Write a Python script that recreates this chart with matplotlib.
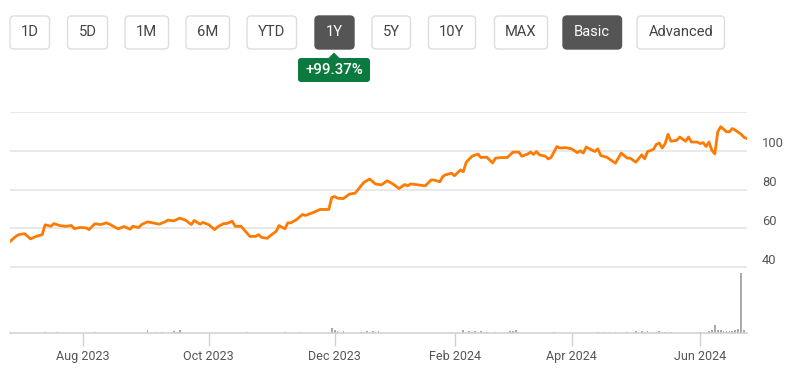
import matplotlib
matplotlib.use("Agg")
import matplotlib.pyplot as plt
from matplotlib.patches import FancyBboxPatch, Polygon
import pandas as pd

plt.rcParams['font.family'] = ['Roboto', 'DejaVu Sans']

# ---------------- data ----------------
start_date = "2023-06-26"
end_date = "2024-06-26"
holidays = ["2023-07-04", "2023-09-04", "2023-11-23", "2023-12-25", "2024-01-01",
            "2024-01-15", "2024-02-19", "2024-03-29", "2024-05-27", "2024-06-19"]

# trading-session number (from start) and closing price
session = [0, 2, 3, 5, 7, 9, 11, 12, 14, 15, 17, 19, 21, 22, 24, 26, 27, 29, 31, 33,
           34, 37, 39, 41, 42, 44, 45, 47, 51, 53, 54, 56, 58, 60, 62, 63, 65, 66, 68, 70,
           71, 73, 74, 76, 77, 79, 80, 82, 84, 85, 86, 88, 89, 91, 92, 94, 95, 96, 98, 100,
           101, 104, 106, 109, 110, 111, 112, 114, 116, 118, 121, 123, 125, 127, 129, 131, 133,
           135, 136, 137, 140, 142, 144, 145, 147, 148, 149, 151, 152, 154, 155, 156, 158, 160,
           161, 163, 165, 166, 168, 170, 172, 174, 175, 177, 178, 179, 180, 181, 183, 184, 185,
           187, 188, 190, 192, 194, 195, 196, 197, 200, 201, 202, 204, 207, 209, 211, 212, 214,
           216, 217, 218, 220, 221, 222, 223, 224, 225, 226, 228, 229, 231, 232, 233, 235, 236,
           237, 238, 239, 240, 241, 242, 243, 245, 246, 247, 248, 250, 251, 252]
price = [53.2, 55.8, 56.7, 57.2, 54.5, 55.8, 56.7, 61.8, 61.0, 62.4, 61.4, 61.0, 61.4, 59.8,
         60.4, 60.2, 59.3, 62.3, 61.9, 62.8, 62.1, 59.7, 60.9, 59.5, 61.0, 60.4, 61.9, 63.3,
         62.1, 63.3, 64.2, 63.8, 65.2, 64.2, 61.9, 64.0, 62.1, 63.0, 61.8, 59.3, 60.7, 62.4,
         62.4, 63.6, 61.0, 61.0, 59.3, 55.8, 55.8, 56.7, 55.3, 54.8, 56.2, 58.4, 61.4, 59.7,
         62.8, 62.8, 64.5, 67.1, 66.6, 68.3, 69.7, 69.7, 75.8, 76.4, 75.5, 75.3, 77.6, 78.1,
         83.7, 85.4, 82.8, 82.4, 84.5, 82.8, 80.5, 82.6, 81.9, 82.9, 82.3, 81.9, 84.9, 84.9,
         84.0, 86.8, 87.6, 88.4, 87.1, 90.1, 89.2, 94.1, 97.2, 98.3, 96.5, 96.7, 93.7, 96.2,
         96.5, 96.5, 99.3, 99.3, 97.2, 98.3, 99.3, 98.1, 99.6, 97.9, 97.2, 95.8, 96.5, 102.2,
         101.4, 101.6, 101.0, 99.0, 100.0, 98.8, 101.9, 99.6, 101.0, 97.5, 96.7, 93.6, 98.8,
         96.2, 96.2, 94.1, 97.9, 95.8, 99.6, 100.7, 103.3, 104.0, 101.4, 103.7, 108.5, 104.9,
         105.4, 107.1, 104.9, 107.1, 104.5, 104.5, 103.7, 104.2, 102.2, 104.5, 100.2, 98.4,
         109.8, 112.4, 109.8, 109.8, 111.5, 110.6, 108.5, 106.9, 106.3]

# volume (millions of shares) on sessions with visible bars
vol_session = [0, 12, 16, 29, 47, 50, 52, 56, 57, 58, 81, 94, 99, 110, 111, 112, 114, 120,
               122, 124, 126, 155, 157, 159, 161, 163, 166, 171, 172, 173, 186, 201, 203, 205,
               207, 211, 214, 216, 218, 220, 222, 224, 226, 236, 239, 240, 241, 242, 243, 244,
               245, 246, 247, 248, 249, 250, 251]
volume = [0.15, 0.15, 0.15, 0.15, 0.3, 0.15, 0.15, 0.25, 0.15, 0.3, 0.15, 0.15, 0.15, 0.5,
          0.3, 0.2, 0.2, 0.15, 0.2, 0.25, 0.25, 0.3, 0.2, 0.2, 0.25, 0.15, 0.15, 0.2, 0.25,
          0.3, 0.15, 0.15, 0.15, 0.15, 0.15, 0.15, 0.2, 0.25, 0.2, 0.15, 0.2, 0.15, 0.15,
          0.15, 0.2, 0.3, 0.8, 0.35, 0.3, 0.25, 0.2, 0.25, 0.2, 0.3, 0.4, 6.0, 0.3]

y_ticks = [40, 60, 80, 100, 120]
x_tick_months = ["2023-08", "2023-10", "2023-12", "2024-02", "2024-04", "2024-06"]
range_buttons = ["1D", "5D", "1M", "6M", "YTD", "1Y", "5Y", "10Y", "MAX"]
mode_buttons = ["Basic", "Advanced"]
active_range = "1Y"
active_mode = "Basic"
change_label = "+99.37%"

# ---------------- calendar ----------------
cal = pd.bdate_range(start_date, end_date)
cal = cal[~cal.isin(pd.to_datetime(holidays))]
tick_pos, tick_lab = [], []
for m in x_tick_months:
    idx = [i for i, d in enumerate(cal) if d.strftime("%Y-%m") == m][0]
    tick_pos.append(idx)
    tick_lab.append(cal[idx].strftime("%b %Y"))

# ---------------- figure ----------------
W, H = 793, 371
fig = plt.figure(figsize=(W / 100, H / 100), dpi=100)
fig.patch.set_facecolor("white")

def px_rect(x0, y0, x1, y1):
    return [x0 / W, 1 - y1 / H, (x1 - x0) / W, (y1 - y0) / H]

# price axes (top 112 -> 120, 40 at y 267)
left, right = 10, 747
ax = fig.add_axes(px_rect(left, 112, right, 333))
ppu = (267 - 112) / 80.0
ax.set_ylim(120 - (333 - 112) / ppu, 120)
ax.set_xlim(0, len(cal) - 1)
for s in ax.spines.values():
    s.set_visible(False)
ax.set_xticks([])
ax.set_yticks([])
ax.patch.set_alpha(0)
for yt in y_ticks:
    ax.axhline(yt, color="#e3e3e3", lw=1.1, zorder=1)
    if yt < 120:
        ax.annotate(str(yt), xy=(1, yt), xycoords=("axes fraction", "data"),
                    xytext=(15, 7), textcoords="offset pixels",
                    ha="left", va="center", fontsize=9.3, color="#555555")
ax.plot(session, price, color="#FF7A00", lw=2.0, zorder=3, solid_joinstyle="round")

# volume axes
vax = fig.add_axes(px_rect(left, 267, right, 333))
vax.set_xlim(0, len(cal) - 1)
vax.set_ylim(0, 6.6)
vax.bar(vol_session, volume, width=0.6, color="#aaaaaa", zorder=2)
for k in ["top", "right", "left"]:
    vax.spines[k].set_visible(False)
vax.spines["bottom"].set_color("#d0d0d0")
vax.spines["bottom"].set_linewidth(1.1)
vax.set_yticks([])
vax.set_xticks(tick_pos)
vax.set_xticklabels(tick_lab, fontsize=9, color="#555555")
vax.tick_params(axis="x", length=9, width=1, color="#d0d0d0", pad=3)
vax.patch.set_alpha(0)

# overlay for buttons
ov = fig.add_axes([0, 0, 1, 1])
ov.set_xlim(0, W)
ov.set_ylim(H, 0)
ov.axis("off")
ov.patch.set_alpha(0)

btn_x = [(10, 49.5), (67.5, 107.5), (125, 168.5), (186, 229.5), (247, 296.5), (315, 354),
         (372, 410.5), (428.5, 475.5), (494.5, 547.5), (563, 621.5), (637, 724.5)]
labels = range_buttons + mode_buttons
for (x0, x1), lab in zip(btn_x, labels):
    active = lab in (active_range, active_mode)
    box = FancyBboxPatch((x0, 16), x1 - x0, 33, boxstyle="round,pad=0,rounding_size=4",
                         facecolor="#555555" if active else "white",
                         edgecolor="#555555" if active else "#dddddd", lw=1.0)
    ov.add_patch(box)
    ov.text((x0 + x1) / 2, 32.5, lab, ha="center", va="center", fontsize=10.6,
            color="white" if active else "#444444")

# change badge
bx0, bx1, by0, by1 = 298, 370, 58, 82
ov.add_patch(FancyBboxPatch((bx0, by0), bx1 - bx0, by1 - by0,
                            boxstyle="round,pad=0,rounding_size=3",
                            facecolor="#0A7A3E", edgecolor="none"))
ov.add_patch(Polygon([(328, 58.5), (334, 52.5), (340, 58.5)], closed=True,
                     facecolor="#0A7A3E", edgecolor="none"))
ov.text((bx0 + bx1) / 2, 70, change_label, ha="center", va="center",
        fontsize=10.8, color="white", fontweight="medium")

fig.savefig("out.png", dpi=100, facecolor="white")
